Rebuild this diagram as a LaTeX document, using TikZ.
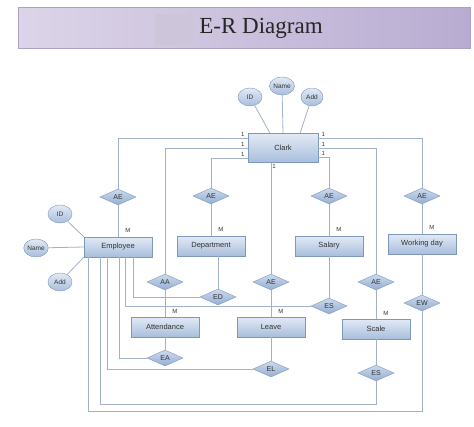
\documentclass[tikz,border=0pt]{standalone}
\usepackage{fontspec}
\setmainfont{Liberation Sans}
\newfontfamily\titlefont{Liberation Serif}
\usetikzlibrary{
    shapes.geometric,
    positioning
}
\definecolor{linecol}{HTML}{A3B2CB}
\definecolor{edgecol}{HTML}{7F97BB}
\definecolor{boxtop}{HTML}{E2EAF5}
\definecolor{boxbottom}{HTML}{A8BEDC}
\definecolor{reltop}{HTML}{CCDAED}
\definecolor{relbottom}{HTML}{94AED2}
\definecolor{textcol}{HTML}{333333}
\definecolor{barleft}{HTML}{DCD5E8}
\definecolor{barmid}{HTML}{F2F0F6}
\definecolor{barright}{HTML}{B9ACD2}
\definecolor{baredge}{HTML}{ADA0C8}
\definecolor{barpatch}{HTML}{CDC6DB}
\tikzset{
    % Shapes
    entity/.style={rectangle,draw=edgecol,top color=boxtop,bottom color=boxbottom,
        minimum width=68pt,minimum height=20pt,inner sep=1pt,text=textcol,
        font=\fontsize{7.5}{8}\selectfont},
    relation/.style={diamond,draw=edgecol,top color=reltop,bottom color=relbottom,
        minimum width=36pt,minimum height=16pt,inner sep=0pt,text=textcol,
        font=\fontsize{7}{7}\selectfont},
    attribute/.style={ellipse,draw=edgecol,top color=boxtop,bottom color=boxbottom,
        minimum width=24pt,minimum height=18pt,inner sep=0pt,text=textcol,
        font=\fontsize{6.5}{7}\selectfont},
    %
    % Connectors and labels
    conn/.style={draw=linecol,line width=0.8pt},
    card/.style={font=\fontsize{6}{6}\selectfont,inner sep=1pt,text=textcol},
    mlab/.style={card,right,xshift=6pt,pos=.8}
}

\begin{document}
\begin{tikzpicture}[x=1pt,y=-1pt]
    \useasboundingbox[fill=white] (0,0) rectangle (474,426);
    % title bar
    \shade[left color=barleft,middle color=barmid,right color=barright,draw=baredge] (18,7) rectangle (470,48);
    \fill[barpatch] (155,14) rectangle (194,45);
    \node[anchor=base,font=\titlefont\fontsize{23}{26}\selectfont,text=black!85] (title) at (261,33) {E-R Diagram};
    % entities
    \node[entity,minimum width=70pt,minimum height=29pt] (clark) at (283,148) {Clark};
    \node[entity] (employee) at (118,247) {Employee};
    \node[entity] (department) at (211,246) {Department};
    \node[entity] (salary) at (329,246) {Salary};
    \node[entity] (workday) at (422,244) {Working day};
    \node[entity] (attendance) at (165,327) {Attendance};
    \node[entity] (leave) at (271,327) {Leave};
    \node[entity] (scale) at (376,329) {Scale};
    % attributes
    \node[attribute] (clarkid) at (250,97) {ID};
    \node[attribute,minimum width=25pt] (clarkname) at (282,86) {Name};
    \node[attribute,minimum width=22pt] (clarkadd) at (312,97) {Add};
    \node[attribute] (empid) at (60,214) {ID};
    \node[attribute,minimum width=23pt] (empname) at (36,248) {Name};
    \node[attribute] (empadd) at (60,282) {Add};
    % relations
    \node[relation] (aeemp) at (118,197) {AE};
    \node[relation] (aedep) at (211,196) {AE};
    \node[relation] (aesal) at (329,196) {AE};
    \node[relation] (aework) at (422,196) {AE};
    \node[relation] (aa) at (165,282) {AA};
    \node[relation] (aeleave) at (271,282) {AE};
    \node[relation] (aescale) at (376,282) {AE};
    \node[relation] (ed) at (218,297) {ED};
    \node[relation] (essal) at (329,306) {ES};
    \node[relation] (ew) at (422,303) {EW};
    \node[relation] (ea) at (165,358) {EA};
    \node[relation] (el) at (271,369) {EL};
    \node[relation] (esscale) at (376,373) {ES};
    % attribute links
    \draw[conn] (clarkid) -- ([xshift=-13pt]clark.north);
    \draw[conn] (clarkname) -- (clark.north);
    \draw[conn] (clarkadd) -- ([xshift=17pt]clark.north);
    \draw[conn] (empid) -- (employee.north west);
    \draw[conn] (empname) -- (employee.west);
    \draw[conn] (empadd) -- (employee.south west);
    % clark links
    \draw[conn] ([yshift=10pt]clark.west) node[card,above left,xshift=-2pt]{1} -| (aeemp.north);
    \draw[conn] (clark.west) node[card,above left,xshift=-2pt]{1} -| (aa.north);
    \draw[conn] ([yshift=-10pt]clark.west) node[card,above left,xshift=-2pt]{1} -| (aedep.north);
    \draw[conn] ([yshift=10pt]clark.east) node[card,above right,xshift=2pt]{1} -| (aework.north);
    \draw[conn] (clark.east) node[card,above right,xshift=2pt]{1} -| (aescale.north);
    \draw[conn] ([yshift=-9pt]clark.east) node[card,above right,xshift=2pt]{1} -| (aesal.north);
    \draw[conn] ([xshift=-12pt]clark.south) node[card,below right]{1} -- (aeleave.north);
    % many sides
    \draw[conn] (aeemp.south) -- node[mlab]{M} (employee.north);
    \draw[conn] (aedep.south) -- node[mlab]{M} (department.north);
    \draw[conn] (aesal.south) -- node[mlab]{M} (salary.north);
    \draw[conn] (aework.south) -- node[mlab]{M} (workday.north);
    \draw[conn] (aa.south) -- node[mlab]{M} (attendance.north);
    \draw[conn] (aeleave.south) -- node[mlab]{M} (leave.north);
    \draw[conn] (aescale.south) -- node[mlab]{M} (scale.north);
    % employee links
    \draw[conn] ([xshift=15pt]employee.south) |- (ed.west);
    \draw[conn] ([xshift=7pt]employee.south) |- (essal.west);
    \draw[conn] ([xshift=1pt]employee.south) |- (ea.west);
    \draw[conn] ([xshift=-11pt]employee.south) |- (el.west);
    \draw[conn] ([xshift=-18pt]employee.south) -- ++(0,147) -| (esscale.south);
    \draw[conn] ([xshift=-30pt]employee.south) -- ++(0,154) -| (ew.south);
    % entity to relation
    \draw[conn] ([xshift=7pt]department.south) -- (ed.north);
    \draw[conn] (salary.south) -- (essal.north);
    \draw[conn] (workday.south) -- (ew.north);
    \draw[conn] (attendance.south) -- (ea.north);
    \draw[conn] (leave.south) -- (el.north);
    \draw[conn] (scale.south) -- (esscale.north);
\end{tikzpicture}
\end{document}
